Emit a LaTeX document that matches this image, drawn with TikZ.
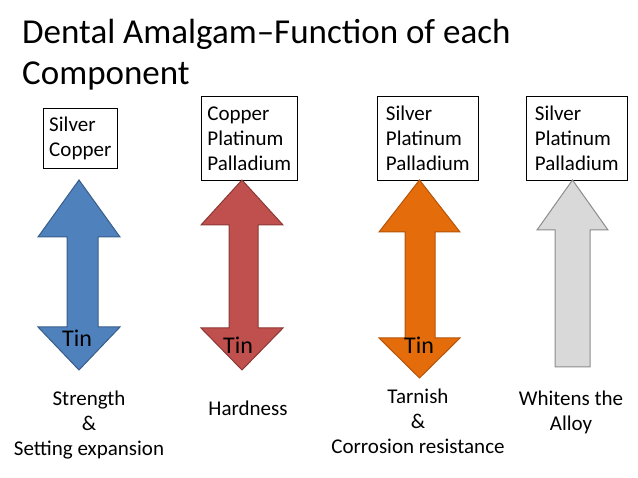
\documentclass[tikz,border=0pt]{standalone}
\usepackage{fontspec}
\setmainfont{Carlito}
\begin{document}
\begin{tikzpicture}[x=1pt,y=-1pt,
 box/.style={draw=black,line width=0.6pt,fill=white,anchor=north west,align=left,inner xsep=4pt,inner ysep=3pt,font=\fontsize{21}{25}\selectfont},
 lab/.style={align=center,font=\fontsize{21}{25}\selectfont},
 tin/.style={font=\fontsize{24}{26}\selectfont}]
\useasboundingbox (0,0) rectangle (638,478);
\node[anchor=base west,font=\fontsize{35}{36}\selectfont,inner sep=0] (t1) at (22,44) {Dental Amalgam–Function of each};
\node[anchor=base west,font=\fontsize{35}{36}\selectfont,inner sep=0] (t2) at (22,85) {Component};
% boxes
\node[box,minimum width=74pt,minimum height=60pt] (b1) at (43,108) {Silver\\Copper};
\node[box,minimum width=96pt,minimum height=84pt] (b2) at (201,96) {Copper\\Platinum\\Palladium};
\node[box,minimum width=101pt,minimum height=84pt] (b3) at (377,96) {Silver\\Platinum\\Palladium};
\node[box,minimum width=101pt,minimum height=84pt] (b4) at (526,96) {Silver\\Platinum\\Palladium};
% arrows
\newcommand{\darr}[9]{%
 \draw[line width=1pt,#9] ({(#1+#2)/2},#5) -- (#2,#6) -- (#4,#6) -- (#4,#7) -- (#2,#7) -- ({(#1+#2)/2},#8) -- (#1,#7) -- (#3,#7) -- (#3,#6) -- (#1,#6) -- cycle;}
\darr{38}{120}{67}{98}{180}{237}{327}{370}{fill={rgb,255:red,79;green,129;blue,189},draw={rgb,255:red,56;green,93;blue,138}}
\darr{201}{283}{229}{258}{180}{225}{328}{370}{fill={rgb,255:red,192;green,80;blue,77},draw={rgb,255:red,140;green,56;blue,54}}
\darr{379}{460}{405}{435}{180}{232}{338}{378}{fill={rgb,255:red,228;green,108;blue,10},draw={rgb,255:red,180;green,85;blue,10}}
\draw[line width=1pt,fill={rgb,255:red,217;green,217;blue,217},draw={rgb,255:red,140;green,140;blue,140}]
 (572.5,180) -- (608,230) -- (590,230) -- (590,367) -- (555,367) -- (555,230) -- (537,230) -- cycle;
\node[tin] (n1) at (77,338) {Tin};
\node[tin] (n2) at (238,345) {Tin};
\node[tin] (n3) at (419,345) {Tin};
\node[lab] (l1) at (89,425) {Strength\\\&\\Setting expansion};
\node[lab] (l2) at (248,408) {Hardness};
\node[lab] (l3) at (418,421) {Tarnish\\\&\\Corrosion resistance};
\node[lab] (l4) at (571,412) {Whitens the\\Alloy};
\end{tikzpicture}
\end{document}
